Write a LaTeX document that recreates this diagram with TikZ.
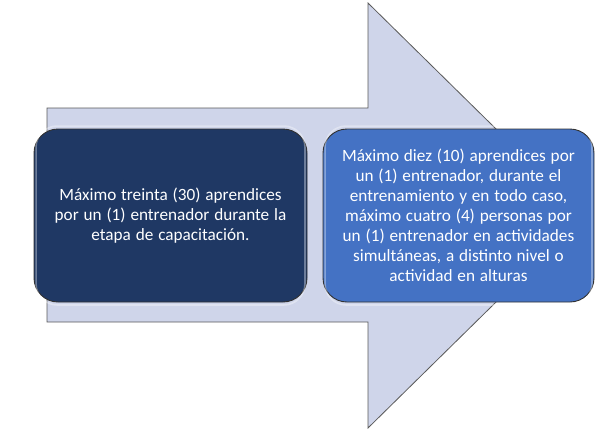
\documentclass[tikz,border=0pt]{standalone}
\usepackage{fontspec}
\setmainfont[WordSpace={1.25}]{Carlito}
\definecolor{arrowfill}{RGB}{207,213,234}
\definecolor{arrowline}{RGB}{90,90,90}
\definecolor{navybox}{RGB}{31,56,100}
\definecolor{bluebox}{RGB}{68,114,196}
\definecolor{boxline}{RGB}{50,50,50}
\tikzset{
  infobox/.style={draw=boxline, line width=0.9pt, rounded corners=24pt,
    minimum width=#1, minimum height=173pt, inner sep=0pt, align=center,
    text=white, font=\fontsize{17.2}{20}\selectfont},
  bevel/.style={draw=white, draw opacity=0.35, line width=1.6pt, rounded corners=21pt},
  bigarrow/.style={fill=arrowfill, draw=arrowline, line width=0.8pt, line join=miter}
}
\begin{document}
\begin{tikzpicture}[x=1pt,y=-1pt]
\useasboundingbox (0,0) rectangle (600,432);
% big background arrow
\draw[bigarrow] (47,108) -- (368,108) -- (368,3) -- (584,215.5) -- (368,428) -- (368,322) -- (47,322) -- cycle;
% boxes
\node[infobox=273pt, fill=navybox] (left) at (170.5,215.5)
  {Máximo treinta (30) aprendices\\por un (1) entrenador durante la\\etapa de capacitación.};
\node[infobox=271pt, fill=bluebox] (right) at (458.5,215.5)
  {Máximo diez (10) aprendices por\\un (1) entrenador, durante el\\entrenamiento y en todo caso,\\máximo cuatro (4) personas por\\un (1) entrenador en actividades\\simultáneas, a distinto nivel o\\actividad en alturas};
% bevel highlights
\draw[bevel] ([shift={(2.5pt,-2.5pt)}]left.south west) rectangle ([shift={(-2.5pt,2.5pt)}]left.north east);
\draw[bevel] ([shift={(2.5pt,-2.5pt)}]right.south west) rectangle ([shift={(-2.5pt,2.5pt)}]right.north east);
\end{tikzpicture}
\end{document}
